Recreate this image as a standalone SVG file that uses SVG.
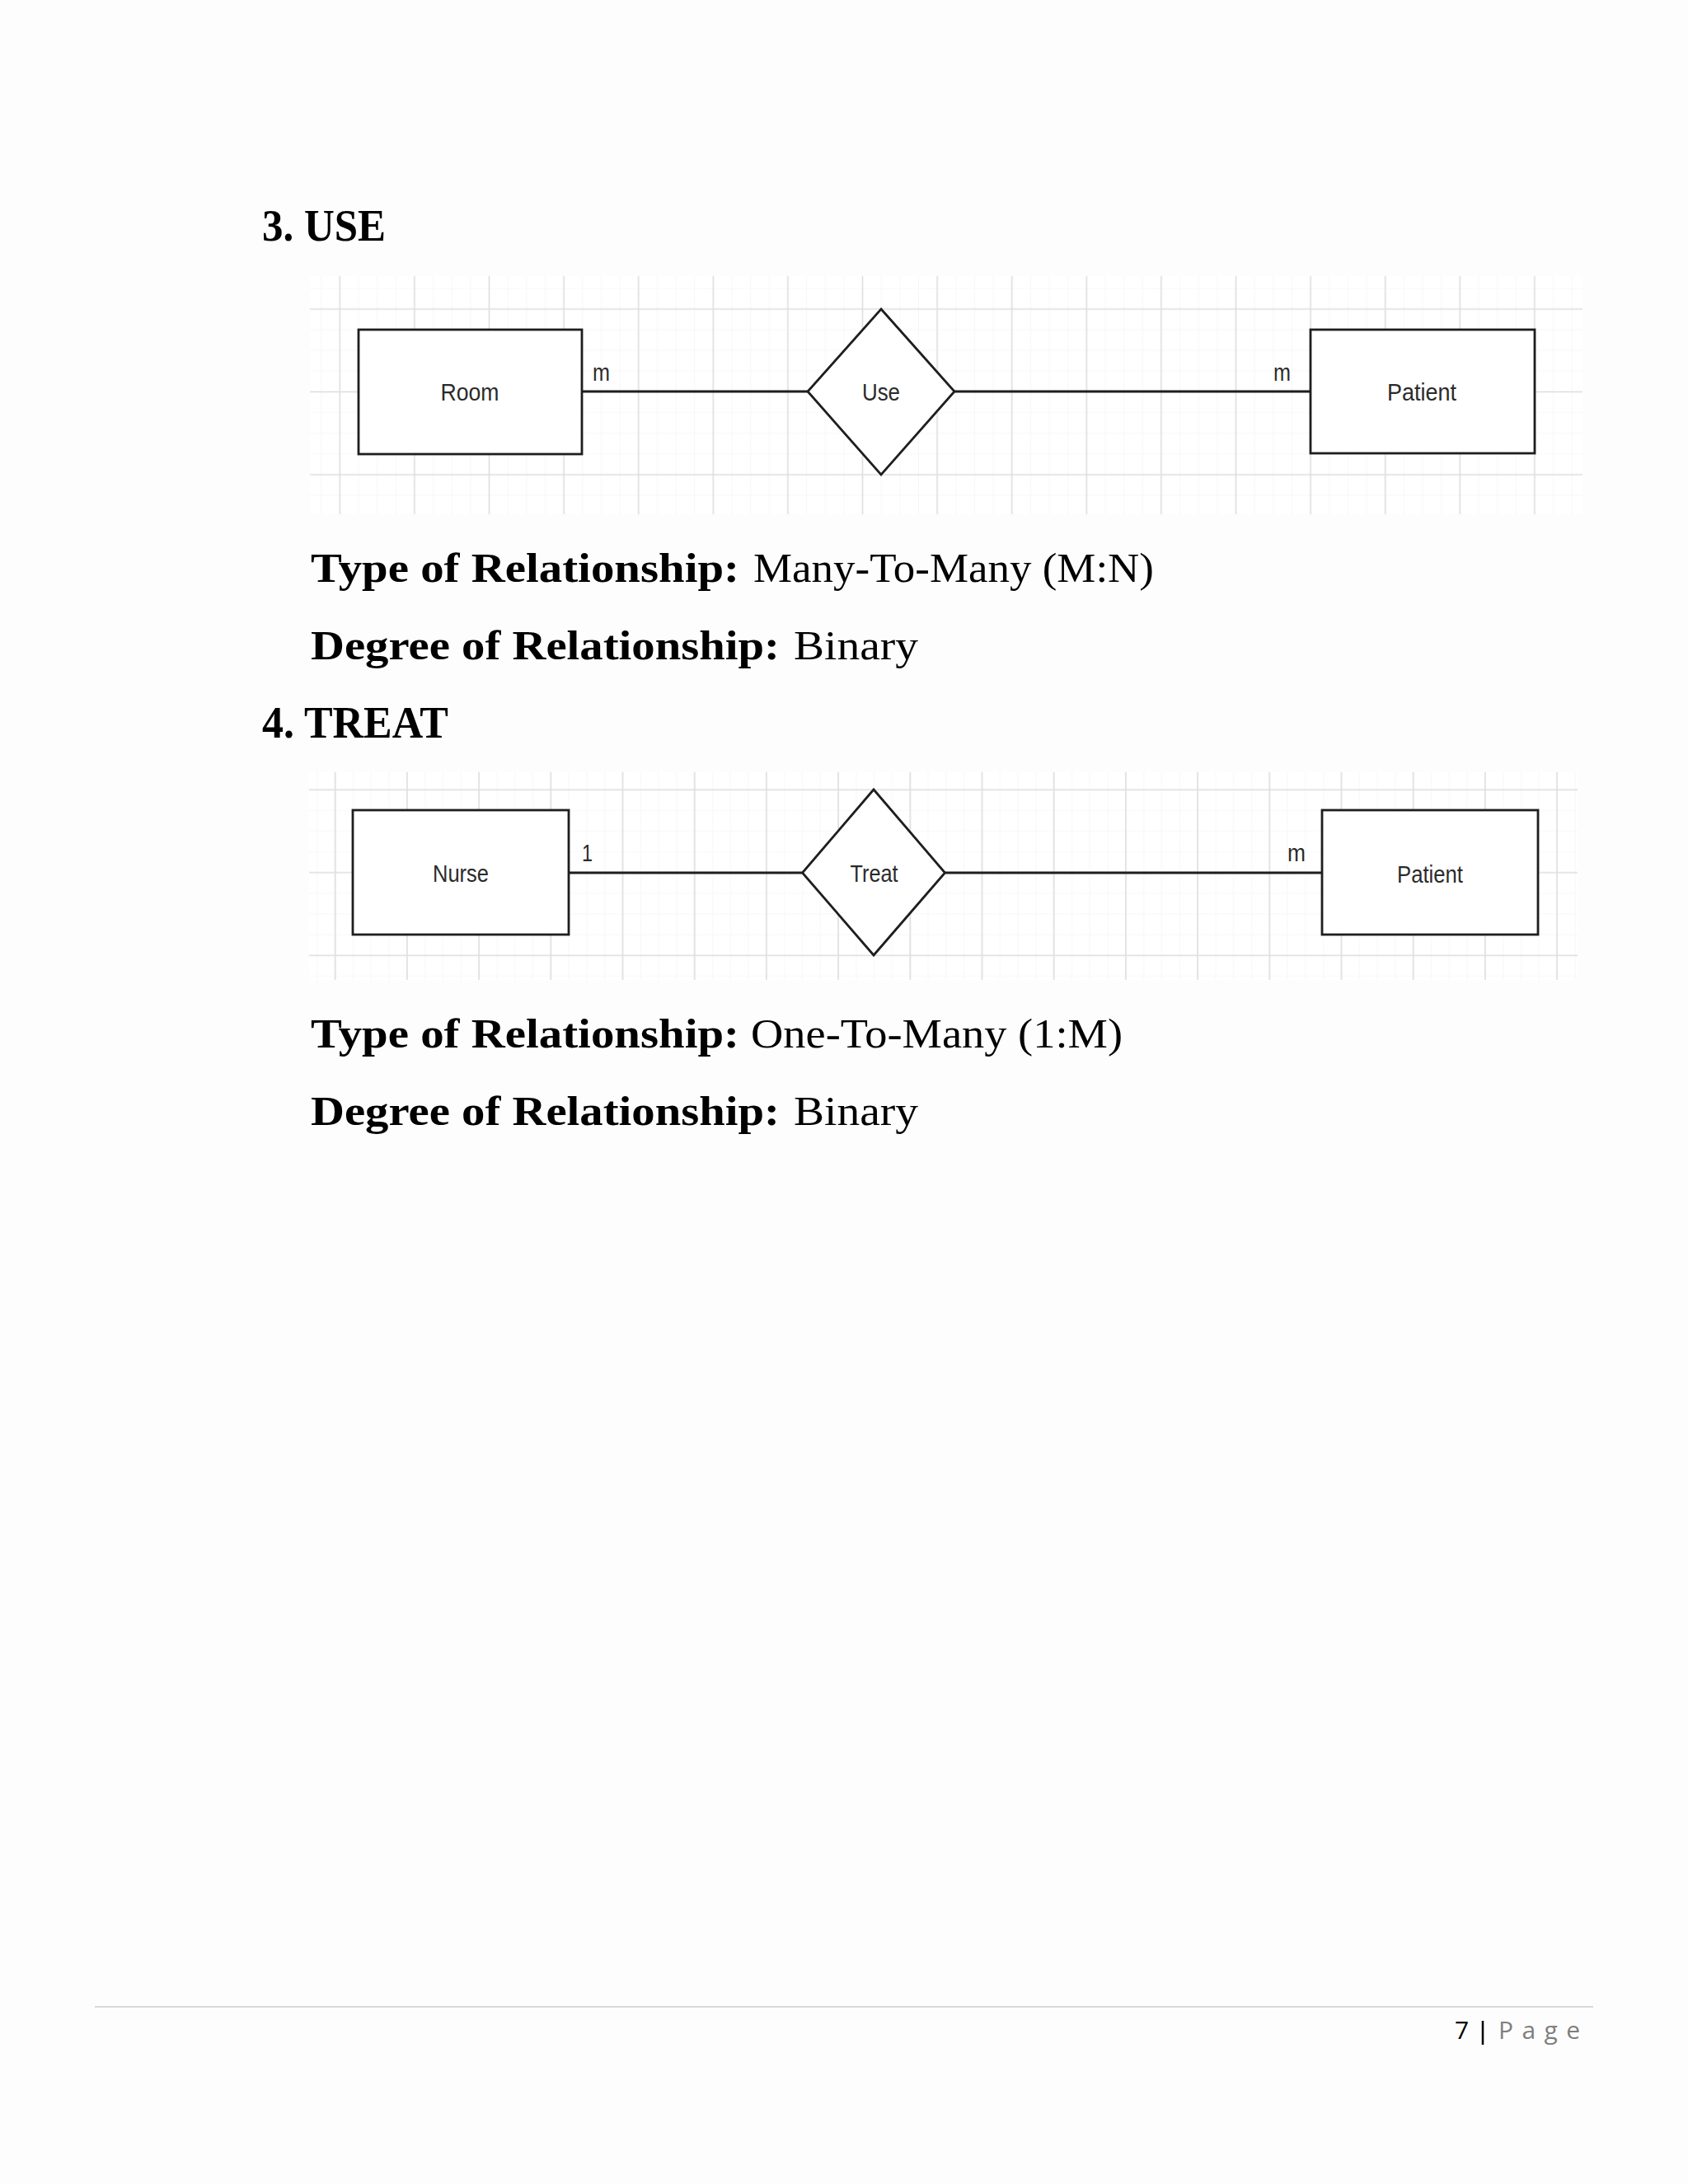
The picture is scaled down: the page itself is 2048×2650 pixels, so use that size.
<svg xmlns="http://www.w3.org/2000/svg" width="2048" height="2650" viewBox="0 0 2048 2650">
<style>
.h{font-family:"Liberation Serif",serif;font-weight:bold;font-size:54px;fill:#000}
.b{font-family:"Liberation Serif",serif;font-weight:bold;font-size:50px;fill:#000}
.r{font-family:"Liberation Serif",serif;font-size:50px;fill:#000}
.lbl{font-family:"Liberation Sans",Arial,sans-serif;font-size:30px;fill:#2b2b2b;text-anchor:middle}
.card{font-family:"Liberation Sans",Arial,sans-serif;font-size:30px;fill:#2b2b2b}
.ent{fill:#fff;stroke:#1e1e1e;stroke-width:2.8}
.con{stroke:#1e1e1e;stroke-width:2.8;fill:none}
.ft{font-family:"Open Sans","Liberation Sans",sans-serif;font-size:30px}
</style>
<defs>
<pattern id="m1" patternUnits="userSpaceOnUse" x="401" y="362.4" width="22.65" height="25.125"><path d="M11.3 0V25.125M0 12.56H22.65" stroke="#f7f7f7" stroke-width="1"/></pattern>
<pattern id="M1" patternUnits="userSpaceOnUse" x="367" y="324.75" width="90.6" height="100.5"><path d="M45.3 0V100.5M0 50.25H90.6" stroke="#dedede" stroke-width="1.6"/></pattern>
<pattern id="m2" patternUnits="userSpaceOnUse" x="395.8" y="945.7" width="21.8" height="25.125"><path d="M10.9 0V25.125M0 12.56H21.8" stroke="#f7f7f7" stroke-width="1"/></pattern>
<pattern id="M2" patternUnits="userSpaceOnUse" x="363.1" y="908.05" width="87.2" height="100.5"><path d="M43.6 0V100.5M0 50.25H87.2" stroke="#dedede" stroke-width="1.6"/></pattern>
</defs>
<rect width="2048" height="2650" fill="#fdfdfd"/>

<text class="h" x="318" y="292" textLength="150" lengthAdjust="spacingAndGlyphs">3. USE</text>

<g id="grid1">
<rect x="376" y="335" width="1544" height="289" fill="#fff"/>
<rect x="376" y="335" width="1544" height="289" fill="url(#m1)"/>
<rect x="376" y="335" width="1544" height="289" fill="url(#M1)"/>
</g>

<g id="connectors1">
<line class="con" x1="706" y1="475" x2="980" y2="475"/>
<line class="con" x1="1158" y1="475" x2="1590" y2="475"/>
<text class="card" x="719" y="462" textLength="21" lengthAdjust="spacingAndGlyphs">m</text>
<text class="card" x="1545" y="462" textLength="21" lengthAdjust="spacingAndGlyphs">m</text>
</g>
<g id="room">
<rect class="ent" x="435" y="400" width="271" height="151"/>
<text class="lbl" x="570" y="486" textLength="71" lengthAdjust="spacingAndGlyphs">Room</text>
</g>
<g id="use">
<polygon class="ent" points="1069,375 1158,475 1069,576 980,475"/>
<text class="lbl" x="1069" y="486" textLength="46" lengthAdjust="spacingAndGlyphs">Use</text>
</g>
<g id="patient1">
<rect class="ent" x="1590" y="400" width="272" height="150"/>
<text class="lbl" x="1725" y="486" textLength="84" lengthAdjust="spacingAndGlyphs">Patient</text>
</g>

<text class="b" x="377" y="706" textLength="520" lengthAdjust="spacingAndGlyphs">Type of Relationship:</text>
<text class="r" x="914" y="706" textLength="486" lengthAdjust="spacingAndGlyphs">Many-To-Many (M:N)</text>
<text class="b" x="377" y="800" textLength="569" lengthAdjust="spacingAndGlyphs">Degree of Relationship:</text>
<text class="r" x="963" y="800" textLength="151" lengthAdjust="spacingAndGlyphs">Binary</text>

<text class="h" x="318" y="895" textLength="226" lengthAdjust="spacingAndGlyphs">4. TREAT</text>

<g id="grid2">
<rect x="375" y="937" width="1539" height="252" fill="#fff"/>
<rect x="375" y="937" width="1539" height="252" fill="url(#m2)"/>
<rect x="375" y="937" width="1539" height="252" fill="url(#M2)"/>
</g>

<g id="connectors2">
<line class="con" x1="690" y1="1059" x2="973.5" y2="1059"/>
<line class="con" x1="1146.5" y1="1059" x2="1604" y2="1059"/>
<text class="card" x="706" y="1045" textLength="13" lengthAdjust="spacingAndGlyphs">1</text>
<text class="card" x="1562" y="1045" textLength="22" lengthAdjust="spacingAndGlyphs">m</text>
</g>
<g id="nurse">
<rect class="ent" x="428" y="983" width="262" height="151"/>
<text class="lbl" x="559" y="1070" textLength="68" lengthAdjust="spacingAndGlyphs">Nurse</text>
</g>
<g id="treat">
<polygon class="ent" points="1060,958 1146.5,1059 1060,1159 973.5,1059"/>
<text class="lbl" x="1060.5" y="1070" textLength="58" lengthAdjust="spacingAndGlyphs">Treat</text>
</g>
<g id="patient2">
<rect class="ent" x="1604" y="983" width="262" height="151"/>
<text class="lbl" x="1735" y="1071" textLength="80" lengthAdjust="spacingAndGlyphs">Patient</text>
</g>

<text class="b" x="377" y="1271" textLength="520" lengthAdjust="spacingAndGlyphs">Type of Relationship:</text>
<text class="r" x="911" y="1271" textLength="451" lengthAdjust="spacingAndGlyphs">One-To-Many (1:M)</text>
<text class="b" x="377" y="1365" textLength="569" lengthAdjust="spacingAndGlyphs">Degree of Relationship:</text>
<text class="r" x="963" y="1365" textLength="151" lengthAdjust="spacingAndGlyphs">Binary</text>

<line x1="115" y1="2435" x2="1933" y2="2435" stroke="#d9d9d9" stroke-width="2"/>
<text class="ft" x="1765" y="2474" fill="#000">7</text>
<line x1="1799" y1="2452" x2="1799" y2="2481" stroke="#000" stroke-width="2.5"/>
<text class="ft" x="1818" y="2474" fill="#7f7f7f" textLength="99" lengthAdjust="spacing">P a g e</text>
</svg>
